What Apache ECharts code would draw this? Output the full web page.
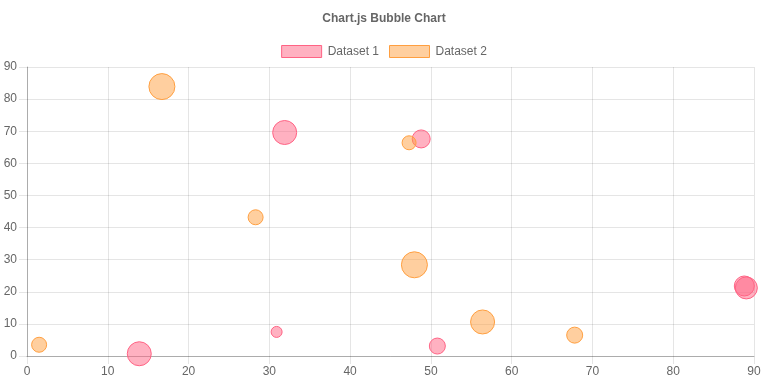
<!DOCTYPE html>
<html>
<head>
<meta charset="utf-8">
<script src="https://cdn.jsdelivr.net/npm/echarts@6/dist/echarts.min.js"></script>
<style>html,body{margin:0;padding:0;background:#fff}#c{width:768px;height:384px}</style>
</head>
<body>
<div id="c"></div>
<script>
const titleText = "Chart.js Bubble Chart";
const seriesNames = ["Dataset 1", "Dataset 2"];
// [x, y, radius]
const dataset1 = [
  [13.9, 0.7, 12],
  [31.9, 69.6, 12],
  [48.8, 67.6, 9],
  [30.9, 7.5, 5.5],
  [50.8, 3.1, 8],
  [88.8, 21.8, 10],
  [89.05, 21.2, 11]
];
const dataset2 = [
  [1.5, 3.5, 7.5],
  [16.7, 83.9, 13],
  [28.3, 43.2, 7.5],
  [47.3, 66.4, 7],
  [47.96, 28.4, 13],
  [56.4, 10.6, 12],
  [67.8, 6.5, 8]
];
const xTicks = {min: 0, max: 90, interval: 10};
const yTicks = {min: 0, max: 90, interval: 10};

const colors = [
  {fill: 'rgba(255,99,132,0.5)', border: 'rgb(255,99,132)'},
  {fill: 'rgba(255,159,64,0.5)', border: 'rgb(255,159,64)'}
];
const chart = echarts.init(document.getElementById('c'), null, {renderer: 'canvas'});
const mk = (name, data, c) => ({
  name, type: 'scatter', data,
  symbolSize: d => d[2] * 2,
  itemStyle: {color: c.fill, borderColor: c.border, borderWidth: 1, opacity: 1},
  emphasis: {disabled: true},
  animation: false
});
const axisCommon = {
  axisLine: {show: true, lineStyle: {color: 'rgba(0,0,0,0.25)', width: 1}},
  axisTick: {show: true, length: 8, lineStyle: {color: 'rgba(0,0,0,0.1)'}},
  splitLine: {show: true, lineStyle: {color: 'rgba(0,0,0,0.1)', width: 1}},
  axisLabel: {color: '#666', fontSize: 12, fontFamily: 'Liberation Sans, Arial, sans-serif', margin: 10}
};
chart.setOption({
  animation: false,
  title: {
    text: titleText, left: 'center', top: 8,
    textStyle: {color: '#666', fontSize: 12, fontWeight: 'bold', fontFamily: 'Liberation Sans, Arial, sans-serif'}
  },
  legend: {
    top: 45, padding: 0, left: 'center', icon: 'rect', itemWidth: 40, itemHeight: 12, itemGap: 10,
    textStyle: {color: '#666', fontSize: 12, fontFamily: 'Liberation Sans, Arial, sans-serif', padding: [0, 0, 0, 1]},
    data: seriesNames.map((n, i) => ({name: n, itemStyle: {color: colors[i].fill, borderColor: colors[i].border, borderWidth: 1}}))
  },
  grid: {left: 27, right: 14, top: 67, bottom: 28},
  xAxis: Object.assign({type: 'value', min: xTicks.min, max: xTicks.max, interval: xTicks.interval}, axisCommon),
  yAxis: Object.assign({type: 'value', min: yTicks.min, max: yTicks.max, interval: yTicks.interval}, axisCommon),
  series: [mk(seriesNames[0], dataset1, colors[0]), mk(seriesNames[1], dataset2, colors[1])]
});
</script>
</body>
</html>
